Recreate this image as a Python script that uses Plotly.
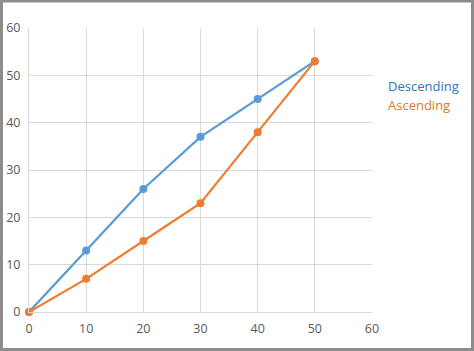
import plotly.graph_objects as go

x_vals = [0, 10, 20, 30, 40, 50]
descending = [0, 13, 26, 37, 45, 53]
ascending = [0, 7, 15, 23, 38, 53]
series_names = ["Descending", "Ascending"]
colors = ["#5b9bd5", "#ed7d31"]
text_colors = ["#2e75b6", "#e0772a"]
tick_vals = [0, 10, 20, 30, 40, 50, 60]

W, H = 474, 351
L, R, T, B = 29, 102, 28, 39
pw, ph = W - L - R, H - T - B

fig = go.Figure()
for name, ys, c in zip(series_names, [descending, ascending], colors):
    fig.add_trace(go.Scatter(x=x_vals, y=ys, mode="lines+markers", name=name,
                             line=dict(color=c, width=2.25),
                             marker=dict(color=c, size=8), cliponaxis=False))

axis_common = dict(range=[0, 60], tickvals=tick_vals, showgrid=True,
                   gridcolor="#d9d9d9", gridwidth=1, zeroline=False,
                   showline=True, linecolor="#d9d9d9", linewidth=1,
                   tickfont=dict(family="Open Sans, Liberation Sans, sans-serif", size=12.5, color="#595959"),
                   ticks="", fixedrange=True, automargin=False)
fig.update_xaxes(**axis_common, ticklabelstandoff=5)
fig.update_yaxes(**axis_common, ticklabelstandoff=5)

for i, (name, tc) in enumerate(zip(series_names, text_colors)):
    fig.add_annotation(x=(386 - L) / pw, y=1 - ((86 + i * 19) - T) / ph,
                       xref="paper", yref="paper", text=name, showarrow=False,
                       xanchor="left", yanchor="middle",
                       font=dict(family="Open Sans, Liberation Sans, sans-serif", size=13, color=tc))

# outer frame
fig.add_shape(type="rect", xref="paper", yref="paper",
              x0=(1.5 - L) / pw, x1=(W - 1.5 - L) / pw,
              y0=1 - (H - 1.5 - T) / ph, y1=1 - (1 - T) / ph,
              line=dict(color="#8c8c8c", width=3), fillcolor="rgba(0,0,0,0)", layer="above")

fig.update_layout(width=W, height=H, margin=dict(l=L, r=R, t=T, b=B, autoexpand=False),
                  paper_bgcolor="white", plot_bgcolor="white", showlegend=False)
fig.write_html("out.html")
